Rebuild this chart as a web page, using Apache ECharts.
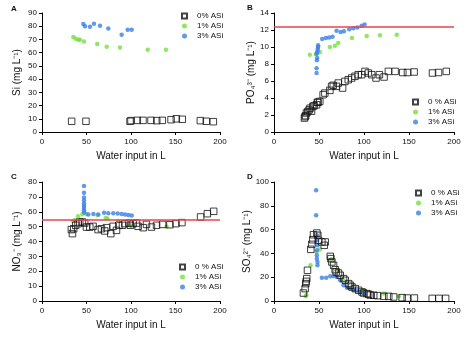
<!DOCTYPE html>
<html>
<head>
<meta charset="utf-8">
<script src="https://cdn.jsdelivr.net/npm/echarts@6/dist/echarts.min.js"></script>
<style>
  html, body { margin: 0; padding: 0; background: #fff; }
  #chart { width: 474px; height: 341px; }
</style>
</head>
<body>
<div id="chart"></div>
<script>
// Water input (L) shared x scale
const xTicks = [0, 50, 100, 150, 200];

// Panel A: Si
const siX0 = [33.3, 49.4, 98.9, 100, 107.1, 113.5, 122.5, 128.9, 135.2, 145, 150.9, 157.6, 177.9, 184.6, 192.5];
const siY0 = [8.1, 8.1, 8.1, 8.6, 8.8, 8.8, 8.8, 8.6, 8.8, 9.3, 10.0, 9.6, 8.6, 8.1, 7.8];
const siX1 = [35.2, 37.8, 40.8, 42.7, 47.2, 62.1, 72.7, 87.6, 118.8, 139.3];
const siY1 = [71.8, 70.5, 69.7, 69.7, 68.5, 66.5, 64.4, 63.9, 62.2, 62.2];
const siX3 = [46.4, 48.3, 53.9, 58.4, 65.2, 74.5, 89.5, 96.3, 100.8];
const siY3 = [81.7, 79.9, 79.6, 81.9, 80.4, 78.3, 73.5, 77.3, 77.3];

// Panel B: PO4
const poX0 = [33.8, 34.5, 35.2, 36.1, 37.5, 39.0, 40.1, 41.7, 43.1, 44.5, 47.3, 48.2, 49.0, 50.9, 54.6, 56.5, 62.1, 64.0, 65.8, 69.5, 71.4, 76.2, 78.8, 82.5, 86.3, 90.0, 93.6, 97.4, 101.1, 104.8, 108.6, 113.4, 117.1, 122.3, 127.1, 134.6, 143.1, 148.3, 155.7, 176.1, 182.8, 191.4];
const poY0 = [1.64, 1.8, 1.92, 2.24, 2.4, 2.6, 2.8, 2.45, 3.0, 3.1, 3.2, 3.5, 3.48, 3.6, 4.39, 4.58, 4.9, 5.37, 5.49, 5.37, 5.76, 5.17, 5.95, 6.15, 6.35, 6.55, 6.74, 6.74, 7.13, 6.94, 6.74, 6.35, 6.74, 6.47, 7.13, 7.13, 7.0, 7.0, 7.06, 6.94, 7.0, 7.13];
const poX1 = [39.8, 46.5, 48.5, 51.0, 62.1, 67.7, 71.4, 86.6, 103.0, 117.8, 136.4];
const poY1 = [9.1, 9.15, 9.3, 9.4, 10.0, 10.15, 10.47, 11.06, 11.3, 11.37, 11.45];
const poX3 = [47.3, 47.3, 47.6, 48.0, 47.3, 48.2, 48.7, 49.0, 49.0, 53.5, 57.6, 61.3, 65.1, 69.5, 74.0, 77.7, 83.6, 88.1, 92.6, 97.4, 100.7];
const poY3 = [6.94, 7.5, 8.45, 8.7, 9.2, 9.5, 9.8, 10.0, 10.2, 10.94, 11.06, 11.13, 11.2, 11.9, 11.76, 11.84, 12.1, 12.2, 12.3, 12.5, 12.66];
const poLimit = 12.4;

// Panel C: NO3
const noX0 = [33, 34.2, 35.6, 37.9, 40.5, 42.4, 45.4, 48, 49.9, 53.7, 57.4, 63, 66.8, 70.5, 72.4, 77.3, 79.9, 83.7, 86.3, 90.4, 93.1, 97.9, 99.4, 102.4, 106.2, 108, 113.7, 117.4, 123, 128.7, 135.5, 143.7, 150.5, 157.2, 178.2, 185.8, 192.9];
const noY0 = [48, 45.3, 48.6, 50.9, 52, 53.1, 53.1, 52.4, 49.7, 49.7, 50.2, 48, 48.6, 47.1, 49.3, 45.3, 50.2, 47.5, 50.9, 50.9, 52, 52.4, 50.9, 52, 52.4, 50.2, 49.3, 51.5, 49.7, 50.9, 51.5, 51.3, 52, 52.7, 56.5, 58.7, 60.3];
const noX1 = [34.9, 37.0, 40.5, 45.4, 49.9, 62.3, 71.7, 73.5, 85.6, 98.7, 140.0];
const noY1 = [53.8, 54.5, 56.9, 58.3, 58.5, 57.8, 55.8, 55.5, 53.8, 50.9, 50.0];
const noX3 = [47.2, 47.2, 47.2, 47.2, 47.2, 47.2, 47.2, 47.2, 47.4, 52.0, 57.7, 63.3, 69.7, 74.5, 80.1, 85.0, 89.5, 93.3, 97.0, 100.8];
const noY3 = [77.3, 72.8, 69.5, 67.5, 65.5, 64.0, 62.5, 61.0, 59.5, 58.1, 58.5, 58.1, 59.4, 59.0, 59.0, 58.8, 58.5, 58.1, 57.8, 57.4];
const noLimit = 54.8;

// Panel D: SO4
const soX0 = [32.7, 34.6, 35.3, 35.8, 36.4, 37.2, 40.9, 42.0, 43.1, 43.9, 47.6, 48.7, 49.4, 53.2, 55.8, 56.9, 62.5, 63.2, 64.3, 66.2, 68.0, 69.1, 71.7, 73.6, 77.3, 79.2, 82.9, 84.8, 86.6, 90.3, 94.0, 97.8, 99.6, 103.3, 105.2, 107.0, 110.8, 115.2, 122.0, 127.5, 133.0, 142.4, 148.0, 156.0, 175.8, 183.3, 190.7];
const soY0 = [6.7, 10.4, 14.6, 16.5, 18.8, 25.8, 43.4, 47.6, 51.5, 55.7, 57.1, 55.2, 51.0, 49.6, 46.8, 49.6, 37.5, 35.6, 32.8, 30.0, 26.3, 24.4, 23.5, 21.6, 18.8, 17.4, 14.6, 13.2, 11.8, 10.4, 9.0, 7.6, 6.7, 6.2, 5.6, 5.0, 4.8, 4.5, 3.9, 3.9, 3.4, 2.8, 2.5, 2.5, 2.2, 2.2, 2.2];
const soX1 = [35.3, 36.0, 40.6, 47.3, 50.9, 63.5, 70.0, 77.3, 86.6, 99.6, 122.0, 138.7];
const soY1 = [3.9, 5.0, 30.0, 41.2, 43.2, 35.0, 25.8, 17.4, 11.8, 9.0, 6.2, 3.9];
const soX3 = [46.8, 46.8, 47.6, 47.6, 48.3, 47.6, 47.6, 47.6, 48.3, 48.3, 53.2, 58.0, 62.5, 66.2, 69.9, 73.6, 77.3, 81.0, 84.8, 88.5, 92.2, 96.0, 99.6];
const soY3 = [93, 72, 55.2, 51, 46.8, 42.6, 38.4, 35.6, 32.8, 30, 19.6, 19.6, 20.7, 20.7, 20.2, 17.4, 13.2, 11.2, 10.4, 9.5, 9.0, 7.6, 6.7];

const zip = (xs, ys) => xs.map((x, i) => [x, ys[i]]);

const FONT = 'Liberation Sans, Arial, sans-serif';
const GREEN = '#74e040';
const BLUE = '#3c7fe6';
const RED = '#e8434f';

const grids = [
  { left: 42, top: 13, width: 178, height: 119 },
  { left: 274, top: 13, width: 180, height: 119 },
  { left: 42, top: 182, width: 178, height: 119 },
  { left: 274, top: 182, width: 180, height: 119 }
];

function xAxis(idx) {
  return {
    gridIndex: idx, type: 'value', min: xTicks[0], max: xTicks[xTicks.length - 1], interval: 50,
    name: 'Water input in L', nameLocation: 'middle', nameGap: 19,
    nameTextStyle: { fontFamily: FONT, fontSize: 10, color: '#111' },
    axisLine: { lineStyle: { color: '#000', width: 1 } },
    axisTick: { show: true, length: 3, lineStyle: { color: '#000' } },
    axisLabel: { fontFamily: FONT, fontSize: 8, color: '#111', margin: 6 },
    splitLine: { show: false }
  };
}
function yAxis(idx, max, interval, name, gap) {
  return {
    gridIndex: idx, type: 'value', min: 0, max: max, interval: interval,
    name: name, nameLocation: 'middle', nameGap: gap,
    nameTextStyle: { fontFamily: FONT, fontSize: 10, color: '#111' },
    axisLine: { show: true, lineStyle: { color: '#000', width: 1 } },
    axisTick: { show: true, length: 3, lineStyle: { color: '#000' } },
    axisLabel: { fontFamily: FONT, fontSize: 8, color: '#111', margin: 5 },
    splitLine: { show: false }
  };
}

function sq(name, idx, data) {
  return {
    name: name, type: 'scatter', xAxisIndex: idx, yAxisIndex: idx, data: data,
    symbol: 'rect', symbolSize: 6.5, z: 4,
    itemStyle: { color: 'rgba(255,255,255,0)', borderColor: '#111', borderWidth: 1 }
  };
}
function dot(name, idx, data, color) {
  return {
    name: name, type: 'scatter', xAxisIndex: idx, yAxisIndex: idx, data: data,
    symbol: 'circle', symbolSize: 4.5, z: 3,
    itemStyle: { color: color }
  };
}
function limitLine(idx, value) {
  return {
    type: 'line', xAxisIndex: idx, yAxisIndex: idx, data: [],
    silent: true, z: 2,
    markLine: {
      silent: true, symbol: ['none', 'none'], label: { show: false },
      lineStyle: { color: RED, width: 1.5, type: 'solid' },
      data: [{ yAxis: value }]
    }
  };
}
function legend(names, left, top) {
  return {
    data: names.map((n, i) => ({ name: n, itemStyle: i === 0 ? {} : {} })),
    left: left, top: top, orient: 'vertical',
    itemWidth: 5, itemHeight: 5, itemGap: 2,
    selectedMode: false,
    textStyle: { fontFamily: FONT, fontSize: 8, color: '#111', padding: [0, 0, 0, 5] }
  };
}

const panelLetter = (text, x, y) => ({
  type: 'text', left: x, top: y,
  style: { text: text, font: 'bold 8px ' + FONT, fill: '#111' }
});

const option = {
  backgroundColor: '#fff',
  animation: false,
  grid: grids,
  xAxis: [xAxis(0), xAxis(1), xAxis(2), xAxis(3)],
  yAxis: [
    yAxis(0, 90, 10, 'Si (mg L⁻¹)', 20),
    yAxis(1, 14, 2, 'PO₄³⁻ (mg L⁻¹)', 17),
    yAxis(2, 80, 10, 'NO₃⁻ (mg L⁻¹)', 20),
    yAxis(3, 100, 20, 'SO₄²⁻ (mg L⁻¹)', 20)
  ],
  legend: [
    legend(['0% ASi', '1% ASi', '3% ASi'], 176, 7),
    legend(['0 % ASi', '1% ASi', '3% ASi'], 407, 93),
    legend(['0 % ASi', '1% ASi', '3% ASi'], 174, 258),
    legend(['0 % ASi', '1% ASi', '3% ASi'], 410, 184)
  ],
  graphic: [
    panelLetter('A', 11, 5),
    panelLetter('B', 247, 4),
    panelLetter('C', 11, 173),
    panelLetter('D', 247, 173)
  ],
  series: [
    sq('0% ASi', 0, zip(siX0, siY0)),
    dot('1% ASi', 0, zip(siX1, siY1), GREEN),
    dot('3% ASi', 0, zip(siX3, siY3), BLUE),

    limitLine(1, poLimit),
    sq('0 % ASi', 1, zip(poX0, poY0)),
    dot('1% ASi', 1, zip(poX1, poY1), GREEN),
    dot('3% ASi', 1, zip(poX3, poY3), BLUE),

    limitLine(2, noLimit),
    sq('0 % ASi', 2, zip(noX0, noY0)),
    dot('1% ASi', 2, zip(noX1, noY1), GREEN),
    dot('3% ASi', 2, zip(noX3, noY3), BLUE),

    sq('0 % ASi', 3, zip(soX0, soY0)),
    dot('1% ASi', 3, zip(soX1, soY1), GREEN),
    dot('3% ASi', 3, zip(soX3, soY3), BLUE)
  ]
};

const chart = echarts.init(document.getElementById('chart'), null, { renderer: 'canvas' });
chart.setOption(option);
</script>
</body>
</html>
